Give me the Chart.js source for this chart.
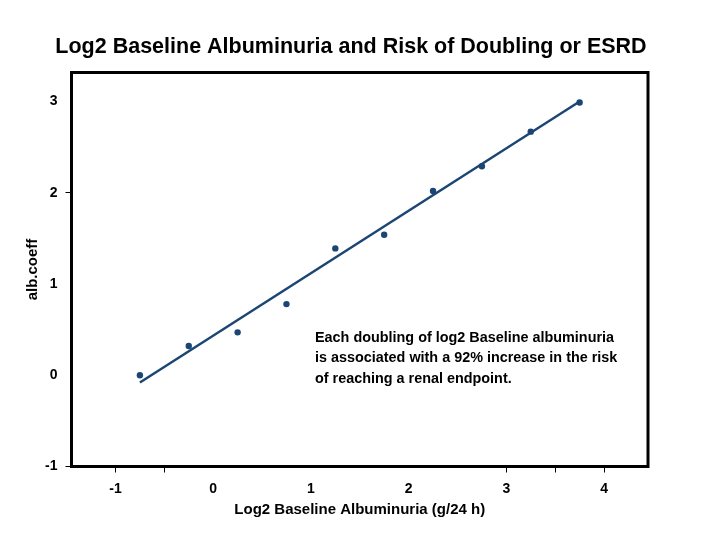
<!DOCTYPE html>
<html>
<head>
<meta charset="utf-8">
<script src="https://cdn.jsdelivr.net/npm/chart.js@4"></script>
<style>
  html, body { margin: 0; padding: 0; background: #ffffff; }
  #wrap { width: 720px; height: 540px; }
</style>
</head>
<body>
<div id="wrap"><canvas id="c" width="720" height="540"></canvas></div>
<script>
// ---- data ----
const chartTitle = "Log2 Baseline Albuminuria and Risk of Doubling or ESRD";
const xAxisTitle = "Log2 Baseline Albuminuria (g/24 h)";
const yAxisTitle = "alb.coeff";
const log2Albuminuria = [-0.75, -0.25, 0.25, 0.75, 1.25, 1.75, 2.25, 2.75, 3.25, 3.75];
const albCoeff = [0.00, 0.32, 0.47, 0.78, 1.39, 1.54, 2.02, 2.29, 2.67, 2.99];
const fitX = [-0.75, 3.75];
const fitY = [-0.08, 3.00];
const xTickValues = [-1, -0.5, 0, 0.5, 1, 1.5, 2, 2.5, 3, 3.5, 4];
const xTickLabels = ["-1", "", "0", "", "1", "", "2", "", "3", "", "4"];
const xTicksShown = [-1, -0.5, 3, 3.5, 4];
const yTickValues = [-1, 0, 1, 2, 3];
const yTickLabels = ["-1", "0", "1", "2", "3"];
const yTicksShown = [-1, 2];
const noteLines = [
  "Each doubling of log2 Baseline albuminuria",
  "is associated with a 92% increase in the risk",
  "of reaching a renal endpoint."
];

const navy = "#1b4673";
const FONT = "'Liberation Sans', Arial, Helvetica, sans-serif";

const pointData = log2Albuminuria.map((x, i) => ({ x: x, y: albCoeff[i] }));
const fitData = fitX.map((x, i) => ({ x: x, y: fitY[i] }));

const framePlugin = {
  id: 'frame',
  afterDatasetsDraw(chart) {
    const { ctx, chartArea: a } = chart;
    ctx.save();
    ctx.strokeStyle = '#000';
    ctx.lineWidth = 3;
    ctx.strokeRect(a.left, a.top, a.right - a.left, a.bottom - a.top);
    ctx.restore();
  }
};

const textPlugin = {
  id: 'texts',
  afterDraw(chart) {
    const { ctx } = chart;
    ctx.save();
    ctx.fillStyle = '#000';
    ctx.font = "bold 21.5px " + FONT;
    ctx.textAlign = 'center';
    ctx.textBaseline = 'middle';
    ctx.fillText(chartTitle, 351, 47);
    ctx.font = "bold 14.4px " + FONT;
    ctx.textAlign = 'left';
    noteLines.forEach((t, i) => {
      ctx.fillText(t, 315, 338 + i * 20.5);
    });
    ctx.restore();
  }
};

new Chart(document.getElementById('c'), {
  type: 'scatter',
  data: {
    datasets: [
      {
        type: 'line',
        label: 'fit',
        data: fitData,
        borderColor: navy,
        borderWidth: 2.5,
        pointRadius: 0,
        fill: false,
        tension: 0
      },
      {
        label: 'alb.coeff',
        data: pointData,
        backgroundColor: navy,
        borderColor: navy,
        pointRadius: 3.2,
        pointBorderWidth: 0,
        showLine: false
      }
    ]
  },
  options: {
    responsive: false,
    animation: false,
    devicePixelRatio: 1,
    layout: { padding: { top: 72.5, right: 72, bottom: 0, left: 0 } },
    plugins: {
      legend: { display: false },
      tooltip: { enabled: false },
      title: { display: false }
    },
    scales: {
      x: {
        type: 'linear',
        min: -1.45,
        max: 4.45,
        afterFit(scale) { scale.height = 73.5; },
        afterBuildTicks(scale) { scale.ticks = xTickValues.map(v => ({ value: v })); },
        border: { display: false },
        grid: {
          drawOnChartArea: false,
          drawTicks: true,
          tickLength: 6,
          tickWidth: 1,
          tickColor: (ctx) => (ctx.tick && xTicksShown.includes(ctx.tick.value)) ? '#000' : 'rgba(0,0,0,0)'
        },
        ticks: {
          autoSkip: false,
          maxRotation: 0,
          padding: 8,
          color: '#000',
          font: { family: FONT, size: 14, weight: 'bold' },
          callback: (v) => { const k = xTickValues.indexOf(v); return k >= 0 ? xTickLabels[k] : ''; }
        },
        title: {
          display: true,
          text: xAxisTitle,
          color: '#000',
          font: { family: FONT, size: 15, weight: 'bold' },
          padding: { top: 0, bottom: 21 }
        }
      },
      y: {
        type: 'linear',
        min: -1,
        max: 3.318,
        afterFit(scale) { scale.width = 71.5; },
        afterBuildTicks(scale) { scale.ticks = yTickValues.map(v => ({ value: v })); },
        border: { display: false },
        grid: {
          drawOnChartArea: false,
          drawTicks: true,
          tickLength: 6,
          tickWidth: 1,
          tickColor: (ctx) => (ctx.tick && yTicksShown.includes(ctx.tick.value)) ? '#000' : 'rgba(0,0,0,0)'
        },
        ticks: {
          autoSkip: false,
          padding: 8,
          color: '#000',
          font: { family: FONT, size: 14, weight: 'bold' },
          callback: (v) => { const k = yTickValues.indexOf(v); return k >= 0 ? yTickLabels[k] : ''; }
        },
        title: {
          display: true,
          text: yAxisTitle,
          color: '#000',
          font: { family: FONT, size: 15, weight: 'bold' },
          padding: { top: 24, bottom: 0 }
        }
      }
    }
  },
  plugins: [framePlugin, textPlugin]
});
</script>
</body>
</html>
